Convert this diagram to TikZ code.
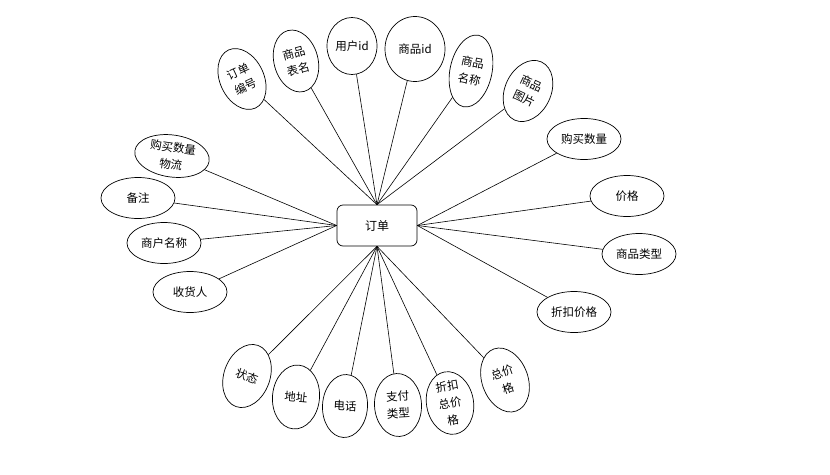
\documentclass[tikz,border=0pt]{standalone}
\usepackage{fontspec}
\usepackage{xcolor}
\usepackage{tikz}
\usetikzlibrary{shapes.geometric}
\setmainfont{Noto Sans CJK SC}

\begin{document}
\begin{tikzpicture}[x=1pt, y=-1pt,
    attr/.style={ellipse, draw, line width=0.7pt, inner sep=0pt, align=center,
                 font=\fontsize{11.5}{17}\selectfont},
    link/.style={line width=0.6pt}]
    \useasboundingbox (0,0) rectangle (830,474);

    % the entity
    \node[draw, line width=0.7pt, rounded corners=6pt, minimum width=80pt, minimum height=41pt,
          font=\fontsize{12}{14}\selectfont] (order) at (377,225.5) {订单};

    % attributes on top
    \node[attr, minimum width=44pt, minimum height=64pt, rotate=25] (ordno) at (242,79) {订单\\编号};
    \node[attr, minimum width=44pt, minimum height=63pt, rotate=15] (tbl) at (296,61) {商品\\表名};
    \node[attr, minimum width=50pt, minimum height=57pt] (uid) at (352,46) {用户id};
    \node[attr, minimum width=60pt, minimum height=65pt] (gid) at (415,49) {商品id};
    \node[attr, minimum width=42pt, minimum height=73pt, rotate=-12] (gname) at (471,71) {商品\\名称};
    \node[attr, minimum width=46pt, minimum height=64pt, rotate=-25] (gpic) at (528,91) {商品\\图片};

    % attributes on the left
    \node[attr, minimum width=75pt, minimum height=42pt, rotate=-8] (logis) at (172,156) {购买数量\\物流};
    \node[attr, minimum width=74pt, minimum height=41pt] (note) at (138,198) {备注};
    \node[attr, minimum width=74pt, minimum height=41pt] (shop) at (164,243) {商户名称};
    \node[attr, minimum width=74pt, minimum height=41pt] (recv) at (190,292) {收货人};

    % attributes on the right
    \node[attr, minimum width=74pt, minimum height=41pt] (qty) at (584,139) {购买数量};
    \node[attr, minimum width=74pt, minimum height=41pt] (price) at (627,196) {价格};
    \node[attr, minimum width=74pt, minimum height=41pt] (gtype) at (639,254) {商品类型};
    \node[attr, minimum width=74pt, minimum height=41pt] (disc) at (574,312) {折扣价格};

    % attributes below
    \node[attr, minimum width=46pt, minimum height=65pt, rotate=-20] (state) at (247,376) {状态};
    \node[attr, minimum width=47pt, minimum height=64pt, rotate=-5] (addr) at (296,397) {地址};
    \node[attr, minimum width=45pt, minimum height=63pt, rotate=-3] (tel) at (345,406) {电话};
    \node[attr, minimum width=47pt, minimum height=63pt, rotate=3] (pay) at (398,405) {支付\\类型};
    \node[attr, minimum width=47pt, minimum height=63pt, rotate=10] (dtotal) at (450,403) {折扣\\总价\\格};
    \node[attr, minimum width=46pt, minimum height=66pt, rotate=20] (total) at (505,380) {总价\\格};

    % connectors
    \foreach \a in {ordno, tbl, uid, gid, gname, gpic}
      \draw[link] (\a) -- (order.north);
    \foreach \a in {logis, note, shop, recv}
      \draw[link] (\a) -- (order.west);
    \foreach \a in {qty, price, gtype, disc}
      \draw[link] (\a) -- (order.east);
    \foreach \a in {state, addr, tel, pay, dtotal, total}
      \draw[link] (\a) -- (order.south);
\end{tikzpicture}
\end{document}
